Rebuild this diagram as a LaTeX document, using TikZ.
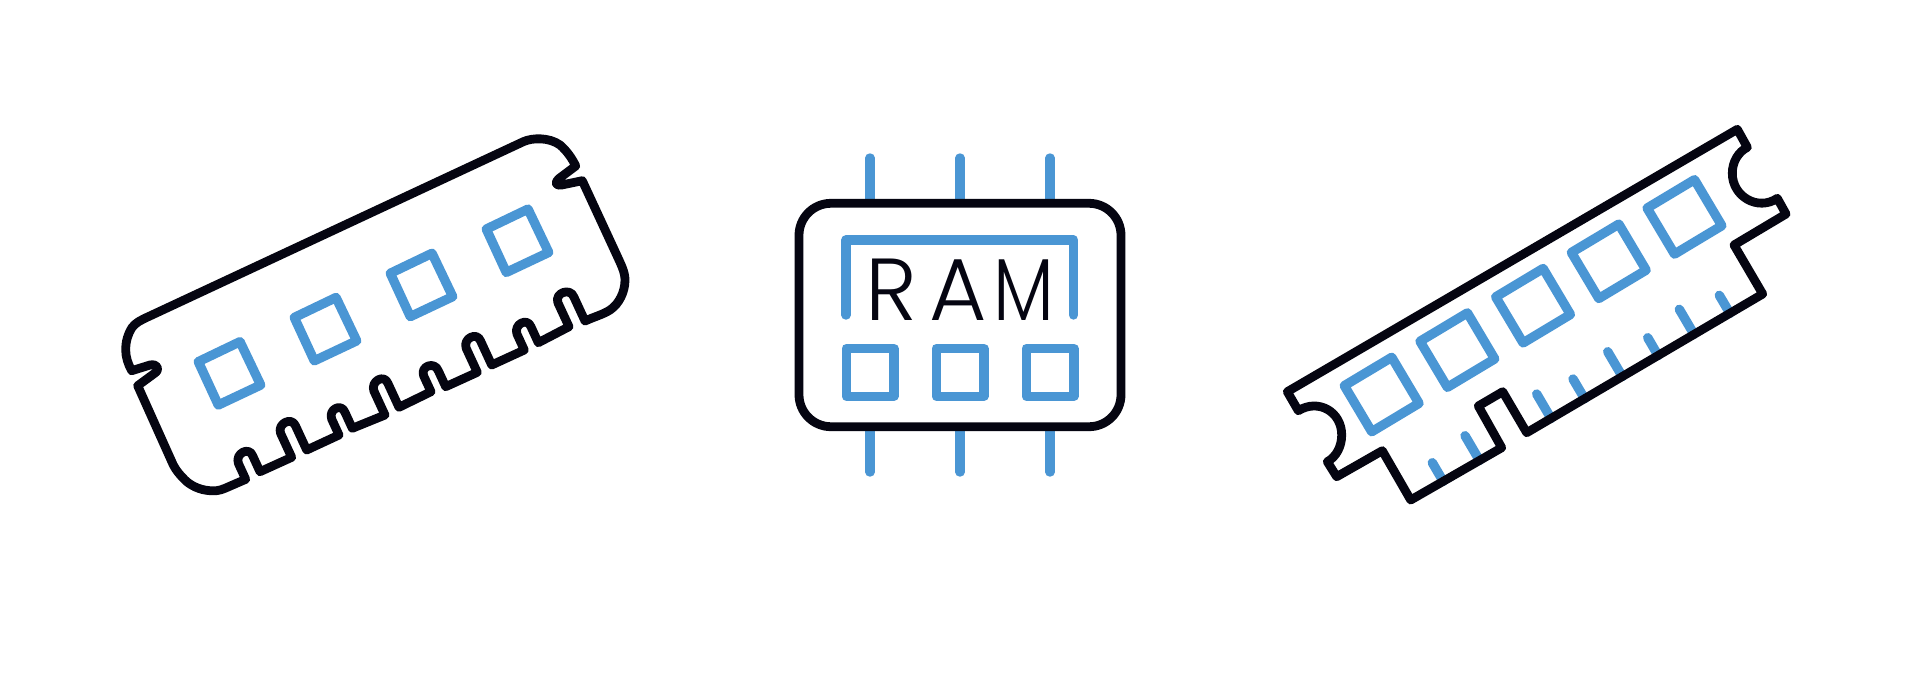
\documentclass[tikz,border=0pt]{standalone}
\usepackage{fontspec}
\newfontfamily\ramfont{Poppins}[UprightFont=* Light,LetterSpace=14]
\definecolor{inkblack}{HTML}{050511}
\definecolor{chipblue}{HTML}{4A96D4}
\tikzset{
  outline/.style={draw=inkblack,line width=4.4pt,line join=round,line cap=round},
  bluepart/.style={draw=chipblue,line width=4.7pt,line join=round,line cap=round},
  ramtext/.style={text=inkblack,inner sep=0pt,anchor=base,font=\ramfont\fontsize{44}{44}\selectfont}
}
\begin{document}
\begin{tikzpicture}[x=0.5pt,y=-0.5pt]
\useasboundingbox (0,0) rectangle (1920,691);
\fill[white] (0,0) rectangle (1920,691);

% left module: chips
\foreach \i in {0,1,2,3}{
  \begin{scope}[shift={({\i*96},{\i*-44.2})}]
    \draw[bluepart] (198.3,361.7) -- (240,341.7) -- (260.7,385) -- (218.3,405) -- cycle;
  \end{scope}
}
% left module: outline
\draw[outline] (148.3,316.7) -- (523.3,141.7)
  .. controls (532,137.7) and (549,137) .. (560,145)
  .. controls (566,150) and (572,158) .. (575.7,166)
  -- (559.3,178.3) .. controls (554,182) and (556,186.5) .. (561.7,185)
  -- (582.3,180.7) -- (616.7,255)
  .. controls (621,264.5) and (625,272) .. (625,280)
  .. controls (625,292) and (619,304) .. (610,310)
  .. controls (603,314.5) and (595,316.5) .. (585,321)
  -- (573.9,297) .. controls +(-3.6,-9.8) and +(-3.6,-9.8) .. (557.9,302.7) -- (569,326.7)
  -- (538.3,342.7) -- (531,326.8) .. controls +(-3.6,-9.8) and +(-3.6,-9.8) .. (517,334.1) -- (524.3,350)
  -- (491.7,365) -- (480.6,341) .. controls +(-3.6,-9.8) and +(-3.6,-9.8) .. (466.2,348.3) -- (477.3,372.3)
  -- (445.7,386.7) -- (438.35,370.8) .. controls +(-3.6,-9.8) and +(-3.6,-9.8) .. (423.65,375.8) -- (431,391.7)
  -- (399,407.3) -- (387.9,383.3) .. controls +(-3.6,-9.8) and +(-3.6,-9.8) .. (373.9,391) -- (385,415)
  -- (352.3,428.3) -- (345,412.4) .. controls +(-3.6,-9.8) and +(-3.6,-9.8) .. (331.7,419.1) -- (339,435)
  -- (306.7,450) -- (295.6,426) .. controls +(-3.6,-9.8) and +(-3.6,-9.8) .. (280.6,433.3) -- (291.7,457.3)
  -- (260,471.7) -- (252.7,455.8) .. controls +(-3.6,-9.8) and +(-3.6,-9.8) .. (238.4,463.4) -- (245.7,479.3)
  -- (225,488.3) .. controls (219,491) and (214,491) .. (210,490.7)
  .. controls (199,490) and (190,485) .. (185,480)
  .. controls (180,475) and (176.5,471) .. (173.3,465)
  -- (137.7,385.7) -- (155,373) .. controls (160.5,369) and (157,363.5) .. (150,365)
  -- (131.7,370.7) .. controls (128,364) and (125.7,357) .. (125.7,350)
  .. controls (125.7,341) and (128,334) .. (131.7,328)
  .. controls (135,323) and (141,320) .. (148.3,316.7) -- cycle;

% centre chip: pins
\foreach \x in {870,960,1050}{
  \draw[bluepart] (\x,158) -- (\x,203);
  \draw[bluepart] (\x,427) -- (\x,472);
}
% centre chip: body
\draw[outline,fill=white,rounded corners=16pt] (799,203.3) rectangle (1121,426.7);
\draw[bluepart] (846,315) -- (846,240) -- (1073.5,240) -- (1073.5,315);
\foreach \x in {846.2,936.2,1026.2}{
  \draw[bluepart] (\x,348.5) rectangle +(47.6,47.7);
}
\node[ramtext] (ram) at (960,320) {RA\kern3pt\scalebox{0.82}[1]{M}};

% right module: ticks
\draw[bluepart] (1432.3,462.7) -- (1443.2,481.3);
\draw[bluepart] (1465,435.7) -- (1479.5,460.4);
\draw[bluepart] (1536.7,394) -- (1551,418.4);
\draw[bluepart] (1573,379) -- (1584.6,398.7);
\draw[bluepart] (1607.7,351.7) -- (1622.3,376.5);
\draw[bluepart] (1647.7,337.7) -- (1658.1,355.5);
\draw[bluepart] (1679.3,309.3) -- (1694,334.3);
\draw[bluepart] (1719.3,295.3) -- (1729.9,313.3);
% right module: chips
\foreach \i in {0,1,2,3,4}{
  \begin{scope}[shift={({\i*75.7},{\i*-44.4})}]
    \draw[bluepart] (1344.3,385.7) -- (1391.7,357.3) -- (1419,403.3) -- (1371.7,431.7) -- cycle;
  \end{scope}
}
% right module: outline
\draw[outline] (1287.3,391.7) -- (1737.3,129.3) -- (1747.3,147.3)
  .. controls (1738.3,152) and (1732.3,161.7) .. (1732.3,173.3)
  .. controls (1732.3,196.7) and (1758,211.3) .. (1777.3,198.3)
  -- (1786,214) -- (1734,245) -- (1762.7,294) -- (1526.7,432.7)
  -- (1502.7,391.7) -- (1478.3,406) -- (1501.7,447.7) -- (1410.7,500)
  -- (1382.3,450.7) -- (1336.7,476.7) -- (1327.3,461.7)
  .. controls (1336,457) and (1341.7,446.7) .. (1341.7,435)
  .. controls (1341.7,411.7) and (1318.3,398.3) .. (1298.3,410.7)
  -- cycle;
\end{tikzpicture}
\end{document}
